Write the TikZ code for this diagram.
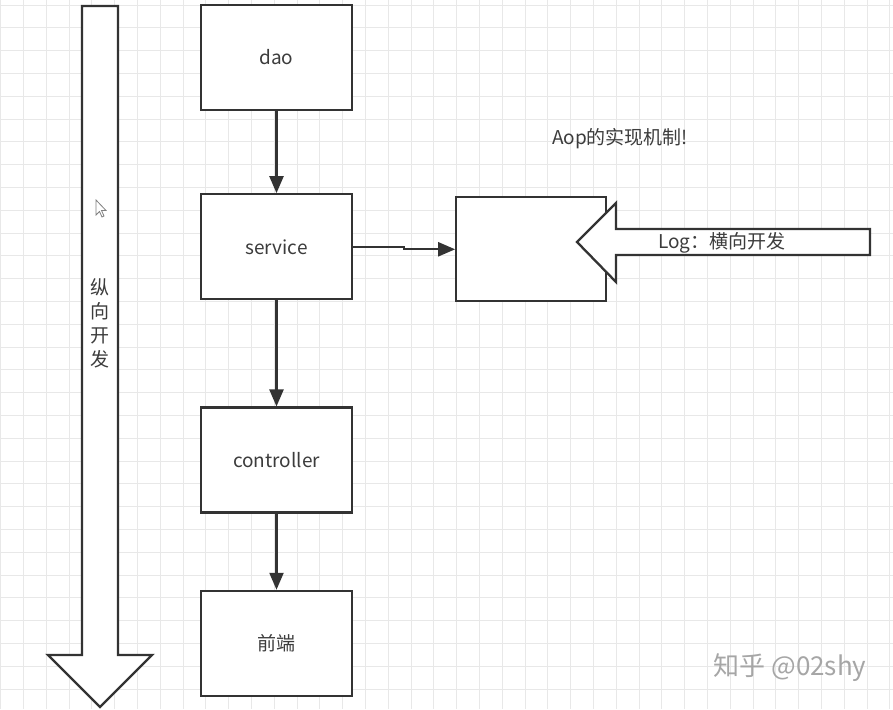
\documentclass[tikz,border=0pt]{standalone}
\usepackage{fontspec}
\setmainfont{Noto Sans CJK SC}
\usepackage{tikz}
\usetikzlibrary{arrows.meta,positioning}
\usepackage{xcolor}
\definecolor{ink}{HTML}{333333}
\definecolor{txt}{HTML}{3C3C3C}
\definecolor{gridc}{HTML}{E8E8E8}

\begin{document}
\begin{tikzpicture}[->,>={Triangle[length=17pt,width=14pt]},x=1pt,y=-1pt,
			line width=2.3pt, draw=ink, node distance=82pt,
			font=\fontsize{19}{24}\selectfont]
				\tikzstyle{layer}=
				[rectangle,draw=ink,fill=white,text=txt,minimum width=151pt,minimum height=105pt]
				\tikzstyle{fat}=[-,draw=ink,fill=white,line join=miter]
				\tikzstyle{grid}=[-,draw=gridc,line width=0.9pt]
				
				\useasboundingbox (0,0) rectangle (893,709);
				\fill[white] (0,0) rectangle (893,709);
				\foreach \i in {0,...,39} \draw[grid] (0.7+22.8*\i,0) -- (0.7+22.8*\i,709);
				\foreach \j in {0,...,30} \draw[grid] (0,5.1+22.8*\j) -- (893,5.1+22.8*\j);
				
				\draw[fat] (82,6) -- (118,6) -- (118,655) -- (152,655) -- (100,707) -- (48,655) -- (82,655) -- cycle;
				\node[text=txt,align=center] (V) at (100,323) {纵\\向\\开\\发};
				\draw[-,draw=gray,fill=white,line width=0.8pt] (96,200) -- (96,215) -- (99.5,211.5) -- (102,217) -- (104,216) -- (101.5,210.5) -- (106,210.5) -- cycle;
				
				\node[layer] (D) at (276.5,57.5) {dao};
				\node[layer] (S) [below=of D] {service};
				\node[layer] (C) [below=106pt of S] {controller};
				\node[layer] (F) [below=76pt of C] {前端};
				\node[layer,minimum width=150pt,minimum height=104pt] (A) [right=102pt of S,yshift=-2.5pt] {};
				
				\path 	(D) edge node {} (S)
						(S) edge node {} (C)
						(C) edge node {} (F);
				\draw (S.east) -- ++(51,0) |- (A.west);
				
				\draw[fat] (577,242) -- (616,203) -- (616,229) -- (870,229) -- (870,255) -- (616,255) -- (616,282) -- cycle;
				\node[text=txt] (L) at (722,243) {Log：横向开发};
				
				\node[text=txt] (T) at (620,139) {Aop的实现机制!};
				\node[text=gray!70,font=\fontsize{26}{30}\selectfont] (W) at (790,668) {知乎 @02shy};
			\end{tikzpicture}
\end{document}
